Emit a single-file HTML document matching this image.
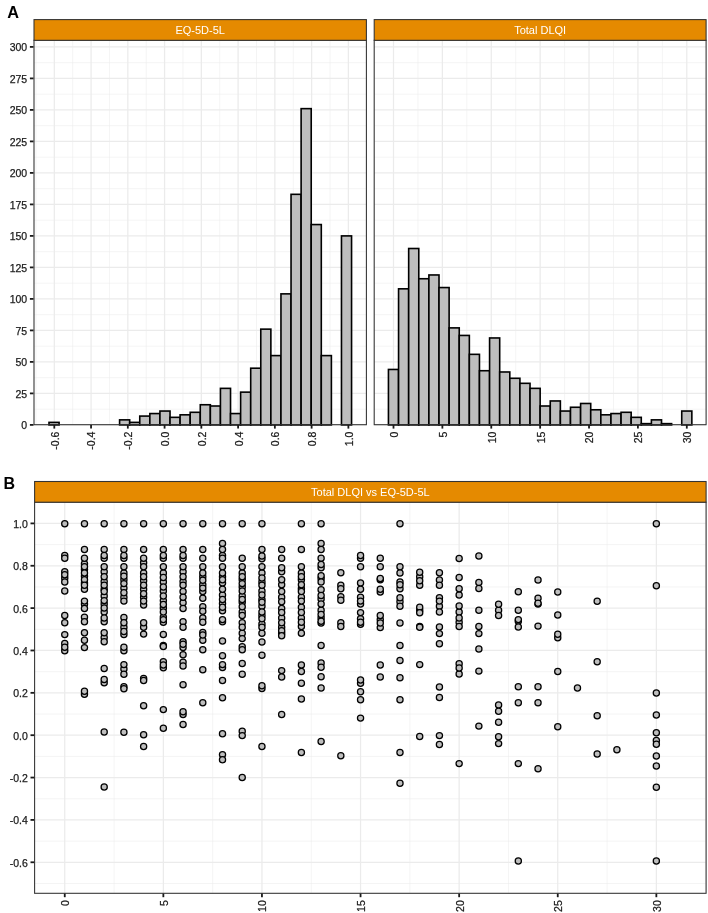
<!DOCTYPE html>
<html><head><meta charset="utf-8"><title>Figure</title>
<style>
html,body{margin:0;padding:0;background:#fff;}
svg{display:block;font-family:"Liberation Sans",sans-serif;}
</style></head><body>
<svg width="708" height="913" viewBox="0 0 708 913">
<rect width="708" height="913" fill="#ffffff"/>
<rect x="34.00" y="40.30" width="332.40" height="384.40" fill="#ffffff"/>
<line x1="35.92" y1="40.30" x2="35.92" y2="424.70" stroke="#ebebeb" stroke-width="0.55" />
<line x1="72.68" y1="40.30" x2="72.68" y2="424.70" stroke="#ebebeb" stroke-width="0.55" />
<line x1="109.44" y1="40.30" x2="109.44" y2="424.70" stroke="#ebebeb" stroke-width="0.55" />
<line x1="146.20" y1="40.30" x2="146.20" y2="424.70" stroke="#ebebeb" stroke-width="0.55" />
<line x1="182.96" y1="40.30" x2="182.96" y2="424.70" stroke="#ebebeb" stroke-width="0.55" />
<line x1="219.72" y1="40.30" x2="219.72" y2="424.70" stroke="#ebebeb" stroke-width="0.55" />
<line x1="256.48" y1="40.30" x2="256.48" y2="424.70" stroke="#ebebeb" stroke-width="0.55" />
<line x1="293.24" y1="40.30" x2="293.24" y2="424.70" stroke="#ebebeb" stroke-width="0.55" />
<line x1="330.00" y1="40.30" x2="330.00" y2="424.70" stroke="#ebebeb" stroke-width="0.55" />
<line x1="34.00" y1="409.15" x2="366.40" y2="409.15" stroke="#ebebeb" stroke-width="0.55" />
<line x1="34.00" y1="377.65" x2="366.40" y2="377.65" stroke="#ebebeb" stroke-width="0.55" />
<line x1="34.00" y1="346.15" x2="366.40" y2="346.15" stroke="#ebebeb" stroke-width="0.55" />
<line x1="34.00" y1="314.65" x2="366.40" y2="314.65" stroke="#ebebeb" stroke-width="0.55" />
<line x1="34.00" y1="283.15" x2="366.40" y2="283.15" stroke="#ebebeb" stroke-width="0.55" />
<line x1="34.00" y1="251.65" x2="366.40" y2="251.65" stroke="#ebebeb" stroke-width="0.55" />
<line x1="34.00" y1="220.15" x2="366.40" y2="220.15" stroke="#ebebeb" stroke-width="0.55" />
<line x1="34.00" y1="188.65" x2="366.40" y2="188.65" stroke="#ebebeb" stroke-width="0.55" />
<line x1="34.00" y1="157.15" x2="366.40" y2="157.15" stroke="#ebebeb" stroke-width="0.55" />
<line x1="34.00" y1="125.65" x2="366.40" y2="125.65" stroke="#ebebeb" stroke-width="0.55" />
<line x1="34.00" y1="94.15" x2="366.40" y2="94.15" stroke="#ebebeb" stroke-width="0.55" />
<line x1="34.00" y1="62.65" x2="366.40" y2="62.65" stroke="#ebebeb" stroke-width="0.55" />
<line x1="54.30" y1="40.30" x2="54.30" y2="424.70" stroke="#ebebeb" stroke-width="1.25" />
<line x1="91.06" y1="40.30" x2="91.06" y2="424.70" stroke="#ebebeb" stroke-width="1.25" />
<line x1="127.82" y1="40.30" x2="127.82" y2="424.70" stroke="#ebebeb" stroke-width="1.25" />
<line x1="164.58" y1="40.30" x2="164.58" y2="424.70" stroke="#ebebeb" stroke-width="1.25" />
<line x1="201.34" y1="40.30" x2="201.34" y2="424.70" stroke="#ebebeb" stroke-width="1.25" />
<line x1="238.10" y1="40.30" x2="238.10" y2="424.70" stroke="#ebebeb" stroke-width="1.25" />
<line x1="274.86" y1="40.30" x2="274.86" y2="424.70" stroke="#ebebeb" stroke-width="1.25" />
<line x1="311.62" y1="40.30" x2="311.62" y2="424.70" stroke="#ebebeb" stroke-width="1.25" />
<line x1="348.38" y1="40.30" x2="348.38" y2="424.70" stroke="#ebebeb" stroke-width="1.25" />
<line x1="34.00" y1="424.90" x2="366.40" y2="424.90" stroke="#ebebeb" stroke-width="1.25" />
<line x1="34.00" y1="393.40" x2="366.40" y2="393.40" stroke="#ebebeb" stroke-width="1.25" />
<line x1="34.00" y1="361.90" x2="366.40" y2="361.90" stroke="#ebebeb" stroke-width="1.25" />
<line x1="34.00" y1="330.40" x2="366.40" y2="330.40" stroke="#ebebeb" stroke-width="1.25" />
<line x1="34.00" y1="298.90" x2="366.40" y2="298.90" stroke="#ebebeb" stroke-width="1.25" />
<line x1="34.00" y1="267.40" x2="366.40" y2="267.40" stroke="#ebebeb" stroke-width="1.25" />
<line x1="34.00" y1="235.90" x2="366.40" y2="235.90" stroke="#ebebeb" stroke-width="1.25" />
<line x1="34.00" y1="204.40" x2="366.40" y2="204.40" stroke="#ebebeb" stroke-width="1.25" />
<line x1="34.00" y1="172.90" x2="366.40" y2="172.90" stroke="#ebebeb" stroke-width="1.25" />
<line x1="34.00" y1="141.40" x2="366.40" y2="141.40" stroke="#ebebeb" stroke-width="1.25" />
<line x1="34.00" y1="109.90" x2="366.40" y2="109.90" stroke="#ebebeb" stroke-width="1.25" />
<line x1="34.00" y1="78.40" x2="366.40" y2="78.40" stroke="#ebebeb" stroke-width="1.25" />
<line x1="34.00" y1="46.90" x2="366.40" y2="46.90" stroke="#ebebeb" stroke-width="1.25" />
<rect x="49.00" y="422.38" width="10.09" height="2.52" fill="#BEBEBE" stroke="#000" stroke-width="1.6"/>
<rect x="119.59" y="419.86" width="10.09" height="5.04" fill="#BEBEBE" stroke="#000" stroke-width="1.6"/>
<rect x="129.68" y="422.38" width="10.09" height="2.52" fill="#BEBEBE" stroke="#000" stroke-width="1.6"/>
<rect x="139.76" y="416.08" width="10.09" height="8.82" fill="#BEBEBE" stroke="#000" stroke-width="1.6"/>
<rect x="149.85" y="413.56" width="10.09" height="11.34" fill="#BEBEBE" stroke="#000" stroke-width="1.6"/>
<rect x="159.94" y="411.04" width="10.09" height="13.86" fill="#BEBEBE" stroke="#000" stroke-width="1.6"/>
<rect x="170.02" y="417.34" width="10.09" height="7.56" fill="#BEBEBE" stroke="#000" stroke-width="1.6"/>
<rect x="180.10" y="414.82" width="10.09" height="10.08" fill="#BEBEBE" stroke="#000" stroke-width="1.6"/>
<rect x="190.19" y="412.30" width="10.09" height="12.60" fill="#BEBEBE" stroke="#000" stroke-width="1.6"/>
<rect x="200.28" y="404.74" width="10.09" height="20.16" fill="#BEBEBE" stroke="#000" stroke-width="1.6"/>
<rect x="210.36" y="406.00" width="10.09" height="18.90" fill="#BEBEBE" stroke="#000" stroke-width="1.6"/>
<rect x="220.44" y="388.36" width="10.09" height="36.54" fill="#BEBEBE" stroke="#000" stroke-width="1.6"/>
<rect x="230.53" y="413.56" width="10.09" height="11.34" fill="#BEBEBE" stroke="#000" stroke-width="1.6"/>
<rect x="240.62" y="392.14" width="10.09" height="32.76" fill="#BEBEBE" stroke="#000" stroke-width="1.6"/>
<rect x="250.70" y="368.20" width="10.09" height="56.70" fill="#BEBEBE" stroke="#000" stroke-width="1.6"/>
<rect x="260.78" y="329.14" width="10.09" height="95.76" fill="#BEBEBE" stroke="#000" stroke-width="1.6"/>
<rect x="270.87" y="355.60" width="10.09" height="69.30" fill="#BEBEBE" stroke="#000" stroke-width="1.6"/>
<rect x="280.96" y="293.86" width="10.09" height="131.04" fill="#BEBEBE" stroke="#000" stroke-width="1.6"/>
<rect x="291.04" y="194.32" width="10.09" height="230.58" fill="#BEBEBE" stroke="#000" stroke-width="1.6"/>
<rect x="301.12" y="108.64" width="10.09" height="316.26" fill="#BEBEBE" stroke="#000" stroke-width="1.6"/>
<rect x="311.21" y="224.56" width="10.09" height="200.34" fill="#BEBEBE" stroke="#000" stroke-width="1.6"/>
<rect x="321.30" y="355.60" width="10.09" height="69.30" fill="#BEBEBE" stroke="#000" stroke-width="1.6"/>
<rect x="341.47" y="235.90" width="10.09" height="189.00" fill="#BEBEBE" stroke="#000" stroke-width="1.6"/>
<rect x="34.00" y="40.30" width="332.40" height="384.40" fill="none" stroke="#333333" stroke-width="1.07"/>
<rect x="374.20" y="40.30" width="331.90" height="384.40" fill="#ffffff"/>
<line x1="417.94" y1="40.30" x2="417.94" y2="424.70" stroke="#ebebeb" stroke-width="0.55" />
<line x1="466.82" y1="40.30" x2="466.82" y2="424.70" stroke="#ebebeb" stroke-width="0.55" />
<line x1="515.71" y1="40.30" x2="515.71" y2="424.70" stroke="#ebebeb" stroke-width="0.55" />
<line x1="564.59" y1="40.30" x2="564.59" y2="424.70" stroke="#ebebeb" stroke-width="0.55" />
<line x1="613.47" y1="40.30" x2="613.47" y2="424.70" stroke="#ebebeb" stroke-width="0.55" />
<line x1="662.36" y1="40.30" x2="662.36" y2="424.70" stroke="#ebebeb" stroke-width="0.55" />
<line x1="374.20" y1="409.15" x2="706.10" y2="409.15" stroke="#ebebeb" stroke-width="0.55" />
<line x1="374.20" y1="377.65" x2="706.10" y2="377.65" stroke="#ebebeb" stroke-width="0.55" />
<line x1="374.20" y1="346.15" x2="706.10" y2="346.15" stroke="#ebebeb" stroke-width="0.55" />
<line x1="374.20" y1="314.65" x2="706.10" y2="314.65" stroke="#ebebeb" stroke-width="0.55" />
<line x1="374.20" y1="283.15" x2="706.10" y2="283.15" stroke="#ebebeb" stroke-width="0.55" />
<line x1="374.20" y1="251.65" x2="706.10" y2="251.65" stroke="#ebebeb" stroke-width="0.55" />
<line x1="374.20" y1="220.15" x2="706.10" y2="220.15" stroke="#ebebeb" stroke-width="0.55" />
<line x1="374.20" y1="188.65" x2="706.10" y2="188.65" stroke="#ebebeb" stroke-width="0.55" />
<line x1="374.20" y1="157.15" x2="706.10" y2="157.15" stroke="#ebebeb" stroke-width="0.55" />
<line x1="374.20" y1="125.65" x2="706.10" y2="125.65" stroke="#ebebeb" stroke-width="0.55" />
<line x1="374.20" y1="94.15" x2="706.10" y2="94.15" stroke="#ebebeb" stroke-width="0.55" />
<line x1="374.20" y1="62.65" x2="706.10" y2="62.65" stroke="#ebebeb" stroke-width="0.55" />
<line x1="393.50" y1="40.30" x2="393.50" y2="424.70" stroke="#ebebeb" stroke-width="1.25" />
<line x1="442.38" y1="40.30" x2="442.38" y2="424.70" stroke="#ebebeb" stroke-width="1.25" />
<line x1="491.27" y1="40.30" x2="491.27" y2="424.70" stroke="#ebebeb" stroke-width="1.25" />
<line x1="540.15" y1="40.30" x2="540.15" y2="424.70" stroke="#ebebeb" stroke-width="1.25" />
<line x1="589.03" y1="40.30" x2="589.03" y2="424.70" stroke="#ebebeb" stroke-width="1.25" />
<line x1="637.92" y1="40.30" x2="637.92" y2="424.70" stroke="#ebebeb" stroke-width="1.25" />
<line x1="686.80" y1="40.30" x2="686.80" y2="424.70" stroke="#ebebeb" stroke-width="1.25" />
<line x1="374.20" y1="424.90" x2="706.10" y2="424.90" stroke="#ebebeb" stroke-width="1.25" />
<line x1="374.20" y1="393.40" x2="706.10" y2="393.40" stroke="#ebebeb" stroke-width="1.25" />
<line x1="374.20" y1="361.90" x2="706.10" y2="361.90" stroke="#ebebeb" stroke-width="1.25" />
<line x1="374.20" y1="330.40" x2="706.10" y2="330.40" stroke="#ebebeb" stroke-width="1.25" />
<line x1="374.20" y1="298.90" x2="706.10" y2="298.90" stroke="#ebebeb" stroke-width="1.25" />
<line x1="374.20" y1="267.40" x2="706.10" y2="267.40" stroke="#ebebeb" stroke-width="1.25" />
<line x1="374.20" y1="235.90" x2="706.10" y2="235.90" stroke="#ebebeb" stroke-width="1.25" />
<line x1="374.20" y1="204.40" x2="706.10" y2="204.40" stroke="#ebebeb" stroke-width="1.25" />
<line x1="374.20" y1="172.90" x2="706.10" y2="172.90" stroke="#ebebeb" stroke-width="1.25" />
<line x1="374.20" y1="141.40" x2="706.10" y2="141.40" stroke="#ebebeb" stroke-width="1.25" />
<line x1="374.20" y1="109.90" x2="706.10" y2="109.90" stroke="#ebebeb" stroke-width="1.25" />
<line x1="374.20" y1="78.40" x2="706.10" y2="78.40" stroke="#ebebeb" stroke-width="1.25" />
<line x1="374.20" y1="46.90" x2="706.10" y2="46.90" stroke="#ebebeb" stroke-width="1.25" />
<rect x="388.44" y="369.46" width="10.11" height="55.44" fill="#BEBEBE" stroke="#000" stroke-width="1.6"/>
<rect x="398.56" y="288.82" width="10.11" height="136.08" fill="#BEBEBE" stroke="#000" stroke-width="1.6"/>
<rect x="408.67" y="248.50" width="10.11" height="176.40" fill="#BEBEBE" stroke="#000" stroke-width="1.6"/>
<rect x="418.78" y="278.74" width="10.11" height="146.16" fill="#BEBEBE" stroke="#000" stroke-width="1.6"/>
<rect x="428.90" y="274.96" width="10.11" height="149.94" fill="#BEBEBE" stroke="#000" stroke-width="1.6"/>
<rect x="439.01" y="287.56" width="10.11" height="137.34" fill="#BEBEBE" stroke="#000" stroke-width="1.6"/>
<rect x="449.13" y="327.88" width="10.11" height="97.02" fill="#BEBEBE" stroke="#000" stroke-width="1.6"/>
<rect x="459.24" y="335.44" width="10.11" height="89.46" fill="#BEBEBE" stroke="#000" stroke-width="1.6"/>
<rect x="469.35" y="354.34" width="10.11" height="70.56" fill="#BEBEBE" stroke="#000" stroke-width="1.6"/>
<rect x="479.47" y="370.72" width="10.11" height="54.18" fill="#BEBEBE" stroke="#000" stroke-width="1.6"/>
<rect x="489.58" y="337.96" width="10.11" height="86.94" fill="#BEBEBE" stroke="#000" stroke-width="1.6"/>
<rect x="499.69" y="371.98" width="10.11" height="52.92" fill="#BEBEBE" stroke="#000" stroke-width="1.6"/>
<rect x="509.81" y="378.28" width="10.11" height="46.62" fill="#BEBEBE" stroke="#000" stroke-width="1.6"/>
<rect x="519.92" y="383.32" width="10.11" height="41.58" fill="#BEBEBE" stroke="#000" stroke-width="1.6"/>
<rect x="530.04" y="388.36" width="10.11" height="36.54" fill="#BEBEBE" stroke="#000" stroke-width="1.6"/>
<rect x="540.15" y="406.00" width="10.11" height="18.90" fill="#BEBEBE" stroke="#000" stroke-width="1.6"/>
<rect x="550.26" y="400.96" width="10.11" height="23.94" fill="#BEBEBE" stroke="#000" stroke-width="1.6"/>
<rect x="560.38" y="411.04" width="10.11" height="13.86" fill="#BEBEBE" stroke="#000" stroke-width="1.6"/>
<rect x="570.49" y="407.26" width="10.11" height="17.64" fill="#BEBEBE" stroke="#000" stroke-width="1.6"/>
<rect x="580.61" y="403.48" width="10.11" height="21.42" fill="#BEBEBE" stroke="#000" stroke-width="1.6"/>
<rect x="590.72" y="409.78" width="10.11" height="15.12" fill="#BEBEBE" stroke="#000" stroke-width="1.6"/>
<rect x="600.83" y="414.82" width="10.11" height="10.08" fill="#BEBEBE" stroke="#000" stroke-width="1.6"/>
<rect x="610.95" y="413.56" width="10.11" height="11.34" fill="#BEBEBE" stroke="#000" stroke-width="1.6"/>
<rect x="621.06" y="412.30" width="10.11" height="12.60" fill="#BEBEBE" stroke="#000" stroke-width="1.6"/>
<rect x="631.17" y="417.34" width="10.11" height="7.56" fill="#BEBEBE" stroke="#000" stroke-width="1.6"/>
<rect x="641.29" y="423.64" width="10.11" height="1.26" fill="#BEBEBE" stroke="#000" stroke-width="1.6"/>
<rect x="651.40" y="419.86" width="10.11" height="5.04" fill="#BEBEBE" stroke="#000" stroke-width="1.6"/>
<rect x="661.52" y="423.64" width="10.11" height="1.26" fill="#BEBEBE" stroke="#000" stroke-width="1.6"/>
<rect x="681.74" y="411.04" width="10.11" height="13.86" fill="#BEBEBE" stroke="#000" stroke-width="1.6"/>
<rect x="374.20" y="40.30" width="331.90" height="384.40" fill="none" stroke="#333333" stroke-width="1.07"/>
<rect x="34.00" y="19.60" width="332.40" height="20.70" fill="#E58A00" stroke="#333333" stroke-width="1.07"/>
<text x="200.20" y="33.70" text-anchor="middle" fill="#ffffff" font-size="11.0">EQ-5D-5L</text>
<rect x="374.20" y="19.60" width="331.90" height="20.70" fill="#E58A00" stroke="#333333" stroke-width="1.07"/>
<text x="540.15" y="33.70" text-anchor="middle" fill="#ffffff" font-size="11.0">Total DLQI</text>
<line x1="29.90" y1="424.90" x2="33.50" y2="424.90" stroke="#1a1a1a" stroke-width="1.8" />
<text x="27.20" y="429.40" text-anchor="end" fill="#1a1a1a" stroke="#1a1a1a" stroke-width="0.25" font-size="10.5">0</text>
<line x1="29.90" y1="393.40" x2="33.50" y2="393.40" stroke="#1a1a1a" stroke-width="1.8" />
<text x="27.20" y="397.90" text-anchor="end" fill="#1a1a1a" stroke="#1a1a1a" stroke-width="0.25" font-size="10.5">25</text>
<line x1="29.90" y1="361.90" x2="33.50" y2="361.90" stroke="#1a1a1a" stroke-width="1.8" />
<text x="27.20" y="366.40" text-anchor="end" fill="#1a1a1a" stroke="#1a1a1a" stroke-width="0.25" font-size="10.5">50</text>
<line x1="29.90" y1="330.40" x2="33.50" y2="330.40" stroke="#1a1a1a" stroke-width="1.8" />
<text x="27.20" y="334.90" text-anchor="end" fill="#1a1a1a" stroke="#1a1a1a" stroke-width="0.25" font-size="10.5">75</text>
<line x1="29.90" y1="298.90" x2="33.50" y2="298.90" stroke="#1a1a1a" stroke-width="1.8" />
<text x="27.20" y="303.40" text-anchor="end" fill="#1a1a1a" stroke="#1a1a1a" stroke-width="0.25" font-size="10.5">100</text>
<line x1="29.90" y1="267.40" x2="33.50" y2="267.40" stroke="#1a1a1a" stroke-width="1.8" />
<text x="27.20" y="271.90" text-anchor="end" fill="#1a1a1a" stroke="#1a1a1a" stroke-width="0.25" font-size="10.5">125</text>
<line x1="29.90" y1="235.90" x2="33.50" y2="235.90" stroke="#1a1a1a" stroke-width="1.8" />
<text x="27.20" y="240.40" text-anchor="end" fill="#1a1a1a" stroke="#1a1a1a" stroke-width="0.25" font-size="10.5">150</text>
<line x1="29.90" y1="204.40" x2="33.50" y2="204.40" stroke="#1a1a1a" stroke-width="1.8" />
<text x="27.20" y="208.90" text-anchor="end" fill="#1a1a1a" stroke="#1a1a1a" stroke-width="0.25" font-size="10.5">175</text>
<line x1="29.90" y1="172.90" x2="33.50" y2="172.90" stroke="#1a1a1a" stroke-width="1.8" />
<text x="27.20" y="177.40" text-anchor="end" fill="#1a1a1a" stroke="#1a1a1a" stroke-width="0.25" font-size="10.5">200</text>
<line x1="29.90" y1="141.40" x2="33.50" y2="141.40" stroke="#1a1a1a" stroke-width="1.8" />
<text x="27.20" y="145.90" text-anchor="end" fill="#1a1a1a" stroke="#1a1a1a" stroke-width="0.25" font-size="10.5">225</text>
<line x1="29.90" y1="109.90" x2="33.50" y2="109.90" stroke="#1a1a1a" stroke-width="1.8" />
<text x="27.20" y="114.40" text-anchor="end" fill="#1a1a1a" stroke="#1a1a1a" stroke-width="0.25" font-size="10.5">250</text>
<line x1="29.90" y1="78.40" x2="33.50" y2="78.40" stroke="#1a1a1a" stroke-width="1.8" />
<text x="27.20" y="82.90" text-anchor="end" fill="#1a1a1a" stroke="#1a1a1a" stroke-width="0.25" font-size="10.5">275</text>
<line x1="29.90" y1="46.90" x2="33.50" y2="46.90" stroke="#1a1a1a" stroke-width="1.8" />
<text x="27.20" y="51.40" text-anchor="end" fill="#1a1a1a" stroke="#1a1a1a" stroke-width="0.25" font-size="10.5">300</text>
<line x1="54.30" y1="425.00" x2="54.30" y2="428.60" stroke="#1a1a1a" stroke-width="1.8" />
<text transform="translate(58.70,431.60) rotate(-90)" text-anchor="end" fill="#1a1a1a" stroke="#1a1a1a" stroke-width="0.25" font-size="10.5">-0.6</text>
<line x1="91.06" y1="425.00" x2="91.06" y2="428.60" stroke="#1a1a1a" stroke-width="1.8" />
<text transform="translate(95.46,431.60) rotate(-90)" text-anchor="end" fill="#1a1a1a" stroke="#1a1a1a" stroke-width="0.25" font-size="10.5">-0.4</text>
<line x1="127.82" y1="425.00" x2="127.82" y2="428.60" stroke="#1a1a1a" stroke-width="1.8" />
<text transform="translate(132.22,431.60) rotate(-90)" text-anchor="end" fill="#1a1a1a" stroke="#1a1a1a" stroke-width="0.25" font-size="10.5">-0.2</text>
<line x1="164.58" y1="425.00" x2="164.58" y2="428.60" stroke="#1a1a1a" stroke-width="1.8" />
<text transform="translate(168.98,431.60) rotate(-90)" text-anchor="end" fill="#1a1a1a" stroke="#1a1a1a" stroke-width="0.25" font-size="10.5">0.0</text>
<line x1="201.34" y1="425.00" x2="201.34" y2="428.60" stroke="#1a1a1a" stroke-width="1.8" />
<text transform="translate(205.74,431.60) rotate(-90)" text-anchor="end" fill="#1a1a1a" stroke="#1a1a1a" stroke-width="0.25" font-size="10.5">0.2</text>
<line x1="238.10" y1="425.00" x2="238.10" y2="428.60" stroke="#1a1a1a" stroke-width="1.8" />
<text transform="translate(242.50,431.60) rotate(-90)" text-anchor="end" fill="#1a1a1a" stroke="#1a1a1a" stroke-width="0.25" font-size="10.5">0.4</text>
<line x1="274.86" y1="425.00" x2="274.86" y2="428.60" stroke="#1a1a1a" stroke-width="1.8" />
<text transform="translate(279.26,431.60) rotate(-90)" text-anchor="end" fill="#1a1a1a" stroke="#1a1a1a" stroke-width="0.25" font-size="10.5">0.6</text>
<line x1="311.62" y1="425.00" x2="311.62" y2="428.60" stroke="#1a1a1a" stroke-width="1.8" />
<text transform="translate(316.02,431.60) rotate(-90)" text-anchor="end" fill="#1a1a1a" stroke="#1a1a1a" stroke-width="0.25" font-size="10.5">0.8</text>
<line x1="348.38" y1="425.00" x2="348.38" y2="428.60" stroke="#1a1a1a" stroke-width="1.8" />
<text transform="translate(352.78,431.60) rotate(-90)" text-anchor="end" fill="#1a1a1a" stroke="#1a1a1a" stroke-width="0.25" font-size="10.5">1.0</text>
<line x1="393.50" y1="425.00" x2="393.50" y2="428.60" stroke="#1a1a1a" stroke-width="1.8" />
<text transform="translate(397.90,431.60) rotate(-90)" text-anchor="end" fill="#1a1a1a" stroke="#1a1a1a" stroke-width="0.25" font-size="10.5">0</text>
<line x1="442.38" y1="425.00" x2="442.38" y2="428.60" stroke="#1a1a1a" stroke-width="1.8" />
<text transform="translate(446.78,431.60) rotate(-90)" text-anchor="end" fill="#1a1a1a" stroke="#1a1a1a" stroke-width="0.25" font-size="10.5">5</text>
<line x1="491.27" y1="425.00" x2="491.27" y2="428.60" stroke="#1a1a1a" stroke-width="1.8" />
<text transform="translate(495.67,431.60) rotate(-90)" text-anchor="end" fill="#1a1a1a" stroke="#1a1a1a" stroke-width="0.25" font-size="10.5">10</text>
<line x1="540.15" y1="425.00" x2="540.15" y2="428.60" stroke="#1a1a1a" stroke-width="1.8" />
<text transform="translate(544.55,431.60) rotate(-90)" text-anchor="end" fill="#1a1a1a" stroke="#1a1a1a" stroke-width="0.25" font-size="10.5">15</text>
<line x1="589.03" y1="425.00" x2="589.03" y2="428.60" stroke="#1a1a1a" stroke-width="1.8" />
<text transform="translate(593.43,431.60) rotate(-90)" text-anchor="end" fill="#1a1a1a" stroke="#1a1a1a" stroke-width="0.25" font-size="10.5">20</text>
<line x1="637.92" y1="425.00" x2="637.92" y2="428.60" stroke="#1a1a1a" stroke-width="1.8" />
<text transform="translate(642.32,431.60) rotate(-90)" text-anchor="end" fill="#1a1a1a" stroke="#1a1a1a" stroke-width="0.25" font-size="10.5">25</text>
<line x1="686.80" y1="425.00" x2="686.80" y2="428.60" stroke="#1a1a1a" stroke-width="1.8" />
<text transform="translate(691.20,431.60) rotate(-90)" text-anchor="end" fill="#1a1a1a" stroke="#1a1a1a" stroke-width="0.25" font-size="10.5">30</text>
<rect x="34.60" y="502.20" width="671.50" height="391.10" fill="#ffffff"/>
<line x1="114.05" y1="502.20" x2="114.05" y2="893.30" stroke="#ebebeb" stroke-width="0.55" />
<line x1="212.65" y1="502.20" x2="212.65" y2="893.30" stroke="#ebebeb" stroke-width="0.55" />
<line x1="311.25" y1="502.20" x2="311.25" y2="893.30" stroke="#ebebeb" stroke-width="0.55" />
<line x1="409.85" y1="502.20" x2="409.85" y2="893.30" stroke="#ebebeb" stroke-width="0.55" />
<line x1="508.45" y1="502.20" x2="508.45" y2="893.30" stroke="#ebebeb" stroke-width="0.55" />
<line x1="607.05" y1="502.20" x2="607.05" y2="893.30" stroke="#ebebeb" stroke-width="0.55" />
<line x1="705.65" y1="502.20" x2="705.65" y2="893.30" stroke="#ebebeb" stroke-width="0.55" />
<line x1="34.60" y1="883.46" x2="706.10" y2="883.46" stroke="#ebebeb" stroke-width="0.55" />
<line x1="34.60" y1="841.10" x2="706.10" y2="841.10" stroke="#ebebeb" stroke-width="0.55" />
<line x1="34.60" y1="798.74" x2="706.10" y2="798.74" stroke="#ebebeb" stroke-width="0.55" />
<line x1="34.60" y1="756.38" x2="706.10" y2="756.38" stroke="#ebebeb" stroke-width="0.55" />
<line x1="34.60" y1="714.02" x2="706.10" y2="714.02" stroke="#ebebeb" stroke-width="0.55" />
<line x1="34.60" y1="671.66" x2="706.10" y2="671.66" stroke="#ebebeb" stroke-width="0.55" />
<line x1="34.60" y1="629.30" x2="706.10" y2="629.30" stroke="#ebebeb" stroke-width="0.55" />
<line x1="34.60" y1="586.94" x2="706.10" y2="586.94" stroke="#ebebeb" stroke-width="0.55" />
<line x1="34.60" y1="544.58" x2="706.10" y2="544.58" stroke="#ebebeb" stroke-width="0.55" />
<line x1="64.75" y1="502.20" x2="64.75" y2="893.30" stroke="#ebebeb" stroke-width="1.25" />
<line x1="163.35" y1="502.20" x2="163.35" y2="893.30" stroke="#ebebeb" stroke-width="1.25" />
<line x1="261.95" y1="502.20" x2="261.95" y2="893.30" stroke="#ebebeb" stroke-width="1.25" />
<line x1="360.55" y1="502.20" x2="360.55" y2="893.30" stroke="#ebebeb" stroke-width="1.25" />
<line x1="459.15" y1="502.20" x2="459.15" y2="893.30" stroke="#ebebeb" stroke-width="1.25" />
<line x1="557.75" y1="502.20" x2="557.75" y2="893.30" stroke="#ebebeb" stroke-width="1.25" />
<line x1="656.35" y1="502.20" x2="656.35" y2="893.30" stroke="#ebebeb" stroke-width="1.25" />
<line x1="34.60" y1="862.28" x2="706.10" y2="862.28" stroke="#ebebeb" stroke-width="1.25" />
<line x1="34.60" y1="819.92" x2="706.10" y2="819.92" stroke="#ebebeb" stroke-width="1.25" />
<line x1="34.60" y1="777.56" x2="706.10" y2="777.56" stroke="#ebebeb" stroke-width="1.25" />
<line x1="34.60" y1="735.20" x2="706.10" y2="735.20" stroke="#ebebeb" stroke-width="1.25" />
<line x1="34.60" y1="692.84" x2="706.10" y2="692.84" stroke="#ebebeb" stroke-width="1.25" />
<line x1="34.60" y1="650.48" x2="706.10" y2="650.48" stroke="#ebebeb" stroke-width="1.25" />
<line x1="34.60" y1="608.12" x2="706.10" y2="608.12" stroke="#ebebeb" stroke-width="1.25" />
<line x1="34.60" y1="565.76" x2="706.10" y2="565.76" stroke="#ebebeb" stroke-width="1.25" />
<line x1="34.60" y1="523.40" x2="706.10" y2="523.40" stroke="#ebebeb" stroke-width="1.25" />
<g fill="#BEBEBE" stroke="#000" stroke-width="1.25">
<circle cx="64.75" cy="555.40" r="3.1"/>
<circle cx="64.75" cy="571.80" r="3.1"/>
<circle cx="64.75" cy="578.00" r="3.1"/>
<circle cx="64.75" cy="591.00" r="3.1"/>
<circle cx="64.75" cy="622.70" r="3.1"/>
<circle cx="64.75" cy="643.40" r="3.1"/>
<circle cx="64.75" cy="650.70" r="3.1"/>
<circle cx="64.75" cy="523.80" r="3.1"/>
<circle cx="64.75" cy="558.20" r="3.1"/>
<circle cx="64.75" cy="574.80" r="3.1"/>
<circle cx="64.75" cy="581.90" r="3.1"/>
<circle cx="64.75" cy="615.40" r="3.1"/>
<circle cx="64.75" cy="634.60" r="3.1"/>
<circle cx="64.75" cy="647.30" r="3.1"/>
<circle cx="84.47" cy="549.40" r="3.1"/>
<circle cx="84.47" cy="563.80" r="3.1"/>
<circle cx="84.47" cy="569.50" r="3.1"/>
<circle cx="84.47" cy="576.30" r="3.1"/>
<circle cx="84.47" cy="583.00" r="3.1"/>
<circle cx="84.47" cy="589.30" r="3.1"/>
<circle cx="84.47" cy="603.90" r="3.1"/>
<circle cx="84.47" cy="617.10" r="3.1"/>
<circle cx="84.47" cy="632.70" r="3.1"/>
<circle cx="84.47" cy="647.60" r="3.1"/>
<circle cx="84.47" cy="694.30" r="3.1"/>
<circle cx="84.47" cy="523.80" r="3.1"/>
<circle cx="84.47" cy="558.20" r="3.1"/>
<circle cx="84.47" cy="566.70" r="3.1"/>
<circle cx="84.47" cy="572.90" r="3.1"/>
<circle cx="84.47" cy="579.70" r="3.1"/>
<circle cx="84.47" cy="585.30" r="3.1"/>
<circle cx="84.47" cy="601.10" r="3.1"/>
<circle cx="84.47" cy="608.50" r="3.1"/>
<circle cx="84.47" cy="621.70" r="3.1"/>
<circle cx="84.47" cy="640.30" r="3.1"/>
<circle cx="84.47" cy="691.30" r="3.1"/>
<circle cx="104.19" cy="549.40" r="3.1"/>
<circle cx="104.19" cy="558.20" r="3.1"/>
<circle cx="104.19" cy="571.80" r="3.1"/>
<circle cx="104.19" cy="581.40" r="3.1"/>
<circle cx="104.19" cy="589.30" r="3.1"/>
<circle cx="104.19" cy="596.00" r="3.1"/>
<circle cx="104.19" cy="603.90" r="3.1"/>
<circle cx="104.19" cy="611.90" r="3.1"/>
<circle cx="104.19" cy="621.70" r="3.1"/>
<circle cx="104.19" cy="637.50" r="3.1"/>
<circle cx="104.19" cy="668.50" r="3.1"/>
<circle cx="104.19" cy="682.80" r="3.1"/>
<circle cx="104.19" cy="787.00" r="3.1"/>
<circle cx="104.19" cy="523.80" r="3.1"/>
<circle cx="104.19" cy="555.40" r="3.1"/>
<circle cx="104.19" cy="566.70" r="3.1"/>
<circle cx="104.19" cy="576.80" r="3.1"/>
<circle cx="104.19" cy="585.30" r="3.1"/>
<circle cx="104.19" cy="591.50" r="3.1"/>
<circle cx="104.19" cy="600.60" r="3.1"/>
<circle cx="104.19" cy="607.90" r="3.1"/>
<circle cx="104.19" cy="617.90" r="3.1"/>
<circle cx="104.19" cy="632.70" r="3.1"/>
<circle cx="104.19" cy="641.70" r="3.1"/>
<circle cx="104.19" cy="679.40" r="3.1"/>
<circle cx="104.19" cy="732.00" r="3.1"/>
<circle cx="123.91" cy="549.40" r="3.1"/>
<circle cx="123.91" cy="558.20" r="3.1"/>
<circle cx="123.91" cy="572.90" r="3.1"/>
<circle cx="123.91" cy="579.70" r="3.1"/>
<circle cx="123.91" cy="588.10" r="3.1"/>
<circle cx="123.91" cy="597.20" r="3.1"/>
<circle cx="123.91" cy="617.40" r="3.1"/>
<circle cx="123.91" cy="627.30" r="3.1"/>
<circle cx="123.91" cy="634.60" r="3.1"/>
<circle cx="123.91" cy="650.70" r="3.1"/>
<circle cx="123.91" cy="668.90" r="3.1"/>
<circle cx="123.91" cy="686.70" r="3.1"/>
<circle cx="123.91" cy="732.20" r="3.1"/>
<circle cx="123.91" cy="523.80" r="3.1"/>
<circle cx="123.91" cy="555.40" r="3.1"/>
<circle cx="123.91" cy="566.70" r="3.1"/>
<circle cx="123.91" cy="576.30" r="3.1"/>
<circle cx="123.91" cy="583.60" r="3.1"/>
<circle cx="123.91" cy="592.70" r="3.1"/>
<circle cx="123.91" cy="601.10" r="3.1"/>
<circle cx="123.91" cy="622.70" r="3.1"/>
<circle cx="123.91" cy="631.50" r="3.1"/>
<circle cx="123.91" cy="647.30" r="3.1"/>
<circle cx="123.91" cy="664.60" r="3.1"/>
<circle cx="123.91" cy="674.30" r="3.1"/>
<circle cx="123.91" cy="688.70" r="3.1"/>
<circle cx="143.63" cy="549.40" r="3.1"/>
<circle cx="143.63" cy="562.70" r="3.1"/>
<circle cx="143.63" cy="572.90" r="3.1"/>
<circle cx="143.63" cy="580.80" r="3.1"/>
<circle cx="143.63" cy="589.30" r="3.1"/>
<circle cx="143.63" cy="597.20" r="3.1"/>
<circle cx="143.63" cy="605.10" r="3.1"/>
<circle cx="143.63" cy="627.30" r="3.1"/>
<circle cx="143.63" cy="678.50" r="3.1"/>
<circle cx="143.63" cy="705.70" r="3.1"/>
<circle cx="143.63" cy="746.50" r="3.1"/>
<circle cx="143.63" cy="523.80" r="3.1"/>
<circle cx="143.63" cy="558.20" r="3.1"/>
<circle cx="143.63" cy="566.70" r="3.1"/>
<circle cx="143.63" cy="576.80" r="3.1"/>
<circle cx="143.63" cy="585.30" r="3.1"/>
<circle cx="143.63" cy="593.80" r="3.1"/>
<circle cx="143.63" cy="601.10" r="3.1"/>
<circle cx="143.63" cy="622.70" r="3.1"/>
<circle cx="143.63" cy="634.10" r="3.1"/>
<circle cx="143.63" cy="680.40" r="3.1"/>
<circle cx="143.63" cy="734.70" r="3.1"/>
<circle cx="163.35" cy="549.40" r="3.1"/>
<circle cx="163.35" cy="558.20" r="3.1"/>
<circle cx="163.35" cy="572.90" r="3.1"/>
<circle cx="163.35" cy="581.90" r="3.1"/>
<circle cx="163.35" cy="591.00" r="3.1"/>
<circle cx="163.35" cy="600.60" r="3.1"/>
<circle cx="163.35" cy="607.90" r="3.1"/>
<circle cx="163.35" cy="617.10" r="3.1"/>
<circle cx="163.35" cy="622.20" r="3.1"/>
<circle cx="163.35" cy="645.40" r="3.1"/>
<circle cx="163.35" cy="661.60" r="3.1"/>
<circle cx="163.35" cy="667.70" r="3.1"/>
<circle cx="163.35" cy="728.30" r="3.1"/>
<circle cx="163.35" cy="523.80" r="3.1"/>
<circle cx="163.35" cy="555.40" r="3.1"/>
<circle cx="163.35" cy="566.70" r="3.1"/>
<circle cx="163.35" cy="577.40" r="3.1"/>
<circle cx="163.35" cy="587.00" r="3.1"/>
<circle cx="163.35" cy="596.00" r="3.1"/>
<circle cx="163.35" cy="604.50" r="3.1"/>
<circle cx="163.35" cy="611.90" r="3.1"/>
<circle cx="163.35" cy="619.60" r="3.1"/>
<circle cx="163.35" cy="634.40" r="3.1"/>
<circle cx="163.35" cy="646.50" r="3.1"/>
<circle cx="163.35" cy="665.00" r="3.1"/>
<circle cx="163.35" cy="709.60" r="3.1"/>
<circle cx="183.07" cy="549.40" r="3.1"/>
<circle cx="183.07" cy="558.20" r="3.1"/>
<circle cx="183.07" cy="571.80" r="3.1"/>
<circle cx="183.07" cy="581.40" r="3.1"/>
<circle cx="183.07" cy="591.50" r="3.1"/>
<circle cx="183.07" cy="602.80" r="3.1"/>
<circle cx="183.07" cy="621.70" r="3.1"/>
<circle cx="183.07" cy="641.70" r="3.1"/>
<circle cx="183.07" cy="647.60" r="3.1"/>
<circle cx="183.07" cy="662.10" r="3.1"/>
<circle cx="183.07" cy="684.70" r="3.1"/>
<circle cx="183.07" cy="714.40" r="3.1"/>
<circle cx="183.07" cy="523.80" r="3.1"/>
<circle cx="183.07" cy="555.40" r="3.1"/>
<circle cx="183.07" cy="566.70" r="3.1"/>
<circle cx="183.07" cy="576.80" r="3.1"/>
<circle cx="183.07" cy="585.30" r="3.1"/>
<circle cx="183.07" cy="597.20" r="3.1"/>
<circle cx="183.07" cy="608.50" r="3.1"/>
<circle cx="183.07" cy="627.30" r="3.1"/>
<circle cx="183.07" cy="644.20" r="3.1"/>
<circle cx="183.07" cy="654.80" r="3.1"/>
<circle cx="183.07" cy="666.00" r="3.1"/>
<circle cx="183.07" cy="711.70" r="3.1"/>
<circle cx="183.07" cy="724.40" r="3.1"/>
<circle cx="202.79" cy="549.40" r="3.1"/>
<circle cx="202.79" cy="566.70" r="3.1"/>
<circle cx="202.79" cy="576.80" r="3.1"/>
<circle cx="202.79" cy="584.70" r="3.1"/>
<circle cx="202.79" cy="591.50" r="3.1"/>
<circle cx="202.79" cy="606.80" r="3.1"/>
<circle cx="202.79" cy="617.90" r="3.1"/>
<circle cx="202.79" cy="632.40" r="3.1"/>
<circle cx="202.79" cy="640.30" r="3.1"/>
<circle cx="202.79" cy="669.70" r="3.1"/>
<circle cx="202.79" cy="523.80" r="3.1"/>
<circle cx="202.79" cy="558.20" r="3.1"/>
<circle cx="202.79" cy="572.90" r="3.1"/>
<circle cx="202.79" cy="580.20" r="3.1"/>
<circle cx="202.79" cy="588.10" r="3.1"/>
<circle cx="202.79" cy="598.30" r="3.1"/>
<circle cx="202.79" cy="611.30" r="3.1"/>
<circle cx="202.79" cy="622.20" r="3.1"/>
<circle cx="202.79" cy="634.90" r="3.1"/>
<circle cx="202.79" cy="649.70" r="3.1"/>
<circle cx="202.79" cy="702.80" r="3.1"/>
<circle cx="222.51" cy="543.50" r="3.1"/>
<circle cx="222.51" cy="555.40" r="3.1"/>
<circle cx="222.51" cy="566.70" r="3.1"/>
<circle cx="222.51" cy="576.80" r="3.1"/>
<circle cx="222.51" cy="583.00" r="3.1"/>
<circle cx="222.51" cy="594.90" r="3.1"/>
<circle cx="222.51" cy="603.40" r="3.1"/>
<circle cx="222.51" cy="610.70" r="3.1"/>
<circle cx="222.51" cy="621.70" r="3.1"/>
<circle cx="222.51" cy="655.80" r="3.1"/>
<circle cx="222.51" cy="667.50" r="3.1"/>
<circle cx="222.51" cy="697.70" r="3.1"/>
<circle cx="222.51" cy="754.60" r="3.1"/>
<circle cx="222.51" cy="523.80" r="3.1"/>
<circle cx="222.51" cy="549.40" r="3.1"/>
<circle cx="222.51" cy="558.20" r="3.1"/>
<circle cx="222.51" cy="572.90" r="3.1"/>
<circle cx="222.51" cy="579.70" r="3.1"/>
<circle cx="222.51" cy="589.30" r="3.1"/>
<circle cx="222.51" cy="599.40" r="3.1"/>
<circle cx="222.51" cy="607.30" r="3.1"/>
<circle cx="222.51" cy="619.60" r="3.1"/>
<circle cx="222.51" cy="640.90" r="3.1"/>
<circle cx="222.51" cy="664.60" r="3.1"/>
<circle cx="222.51" cy="680.40" r="3.1"/>
<circle cx="222.51" cy="733.70" r="3.1"/>
<circle cx="222.51" cy="759.70" r="3.1"/>
<circle cx="242.23" cy="558.20" r="3.1"/>
<circle cx="242.23" cy="572.90" r="3.1"/>
<circle cx="242.23" cy="579.70" r="3.1"/>
<circle cx="242.23" cy="587.00" r="3.1"/>
<circle cx="242.23" cy="596.00" r="3.1"/>
<circle cx="242.23" cy="602.20" r="3.1"/>
<circle cx="242.23" cy="611.90" r="3.1"/>
<circle cx="242.23" cy="622.70" r="3.1"/>
<circle cx="242.23" cy="633.20" r="3.1"/>
<circle cx="242.23" cy="646.80" r="3.1"/>
<circle cx="242.23" cy="663.40" r="3.1"/>
<circle cx="242.23" cy="731.30" r="3.1"/>
<circle cx="242.23" cy="777.50" r="3.1"/>
<circle cx="242.23" cy="523.80" r="3.1"/>
<circle cx="242.23" cy="566.70" r="3.1"/>
<circle cx="242.23" cy="576.80" r="3.1"/>
<circle cx="242.23" cy="583.60" r="3.1"/>
<circle cx="242.23" cy="591.00" r="3.1"/>
<circle cx="242.23" cy="599.40" r="3.1"/>
<circle cx="242.23" cy="606.80" r="3.1"/>
<circle cx="242.23" cy="615.40" r="3.1"/>
<circle cx="242.23" cy="627.30" r="3.1"/>
<circle cx="242.23" cy="638.60" r="3.1"/>
<circle cx="242.23" cy="649.70" r="3.1"/>
<circle cx="242.23" cy="674.30" r="3.1"/>
<circle cx="242.23" cy="735.60" r="3.1"/>
<circle cx="261.95" cy="549.40" r="3.1"/>
<circle cx="261.95" cy="558.80" r="3.1"/>
<circle cx="261.95" cy="572.90" r="3.1"/>
<circle cx="261.95" cy="581.90" r="3.1"/>
<circle cx="261.95" cy="591.00" r="3.1"/>
<circle cx="261.95" cy="599.40" r="3.1"/>
<circle cx="261.95" cy="606.20" r="3.1"/>
<circle cx="261.95" cy="615.40" r="3.1"/>
<circle cx="261.95" cy="623.90" r="3.1"/>
<circle cx="261.95" cy="633.20" r="3.1"/>
<circle cx="261.95" cy="655.30" r="3.1"/>
<circle cx="261.95" cy="688.40" r="3.1"/>
<circle cx="261.95" cy="523.80" r="3.1"/>
<circle cx="261.95" cy="555.90" r="3.1"/>
<circle cx="261.95" cy="566.70" r="3.1"/>
<circle cx="261.95" cy="578.00" r="3.1"/>
<circle cx="261.95" cy="585.30" r="3.1"/>
<circle cx="261.95" cy="594.90" r="3.1"/>
<circle cx="261.95" cy="602.20" r="3.1"/>
<circle cx="261.95" cy="611.90" r="3.1"/>
<circle cx="261.95" cy="618.80" r="3.1"/>
<circle cx="261.95" cy="627.30" r="3.1"/>
<circle cx="261.95" cy="642.00" r="3.1"/>
<circle cx="261.95" cy="685.80" r="3.1"/>
<circle cx="261.95" cy="746.50" r="3.1"/>
<circle cx="281.67" cy="558.20" r="3.1"/>
<circle cx="281.67" cy="571.80" r="3.1"/>
<circle cx="281.67" cy="584.70" r="3.1"/>
<circle cx="281.67" cy="597.20" r="3.1"/>
<circle cx="281.67" cy="608.50" r="3.1"/>
<circle cx="281.67" cy="617.90" r="3.1"/>
<circle cx="281.67" cy="627.30" r="3.1"/>
<circle cx="281.67" cy="633.20" r="3.1"/>
<circle cx="281.67" cy="670.60" r="3.1"/>
<circle cx="281.67" cy="714.40" r="3.1"/>
<circle cx="281.67" cy="549.40" r="3.1"/>
<circle cx="281.67" cy="567.80" r="3.1"/>
<circle cx="281.67" cy="579.70" r="3.1"/>
<circle cx="281.67" cy="591.50" r="3.1"/>
<circle cx="281.67" cy="601.70" r="3.1"/>
<circle cx="281.67" cy="612.40" r="3.1"/>
<circle cx="281.67" cy="622.70" r="3.1"/>
<circle cx="281.67" cy="630.70" r="3.1"/>
<circle cx="281.67" cy="635.80" r="3.1"/>
<circle cx="281.67" cy="677.00" r="3.1"/>
<circle cx="301.39" cy="549.40" r="3.1"/>
<circle cx="301.39" cy="572.90" r="3.1"/>
<circle cx="301.39" cy="579.70" r="3.1"/>
<circle cx="301.39" cy="588.70" r="3.1"/>
<circle cx="301.39" cy="597.20" r="3.1"/>
<circle cx="301.39" cy="607.30" r="3.1"/>
<circle cx="301.39" cy="617.90" r="3.1"/>
<circle cx="301.39" cy="626.40" r="3.1"/>
<circle cx="301.39" cy="665.00" r="3.1"/>
<circle cx="301.39" cy="683.30" r="3.1"/>
<circle cx="301.39" cy="752.40" r="3.1"/>
<circle cx="301.39" cy="523.80" r="3.1"/>
<circle cx="301.39" cy="566.70" r="3.1"/>
<circle cx="301.39" cy="576.80" r="3.1"/>
<circle cx="301.39" cy="584.70" r="3.1"/>
<circle cx="301.39" cy="591.50" r="3.1"/>
<circle cx="301.39" cy="601.10" r="3.1"/>
<circle cx="301.39" cy="612.40" r="3.1"/>
<circle cx="301.39" cy="622.20" r="3.1"/>
<circle cx="301.39" cy="633.20" r="3.1"/>
<circle cx="301.39" cy="671.40" r="3.1"/>
<circle cx="301.39" cy="698.90" r="3.1"/>
<circle cx="321.11" cy="543.50" r="3.1"/>
<circle cx="321.11" cy="558.20" r="3.1"/>
<circle cx="321.11" cy="567.80" r="3.1"/>
<circle cx="321.11" cy="578.50" r="3.1"/>
<circle cx="321.11" cy="589.80" r="3.1"/>
<circle cx="321.11" cy="598.90" r="3.1"/>
<circle cx="321.11" cy="610.20" r="3.1"/>
<circle cx="321.11" cy="617.90" r="3.1"/>
<circle cx="321.11" cy="623.00" r="3.1"/>
<circle cx="321.11" cy="662.90" r="3.1"/>
<circle cx="321.11" cy="676.80" r="3.1"/>
<circle cx="321.11" cy="741.50" r="3.1"/>
<circle cx="321.11" cy="523.80" r="3.1"/>
<circle cx="321.11" cy="549.40" r="3.1"/>
<circle cx="321.11" cy="564.40" r="3.1"/>
<circle cx="321.11" cy="575.70" r="3.1"/>
<circle cx="321.11" cy="581.90" r="3.1"/>
<circle cx="321.11" cy="595.50" r="3.1"/>
<circle cx="321.11" cy="603.90" r="3.1"/>
<circle cx="321.11" cy="614.50" r="3.1"/>
<circle cx="321.11" cy="621.30" r="3.1"/>
<circle cx="321.11" cy="645.40" r="3.1"/>
<circle cx="321.11" cy="667.20" r="3.1"/>
<circle cx="321.11" cy="687.90" r="3.1"/>
<circle cx="340.83" cy="585.30" r="3.1"/>
<circle cx="340.83" cy="596.60" r="3.1"/>
<circle cx="340.83" cy="622.70" r="3.1"/>
<circle cx="340.83" cy="755.80" r="3.1"/>
<circle cx="340.83" cy="572.70" r="3.1"/>
<circle cx="340.83" cy="588.70" r="3.1"/>
<circle cx="340.83" cy="600.20" r="3.1"/>
<circle cx="340.83" cy="626.40" r="3.1"/>
<circle cx="360.55" cy="558.20" r="3.1"/>
<circle cx="360.55" cy="583.00" r="3.1"/>
<circle cx="360.55" cy="597.20" r="3.1"/>
<circle cx="360.55" cy="603.90" r="3.1"/>
<circle cx="360.55" cy="618.80" r="3.1"/>
<circle cx="360.55" cy="624.20" r="3.1"/>
<circle cx="360.55" cy="683.30" r="3.1"/>
<circle cx="360.55" cy="699.80" r="3.1"/>
<circle cx="360.55" cy="555.40" r="3.1"/>
<circle cx="360.55" cy="566.70" r="3.1"/>
<circle cx="360.55" cy="589.30" r="3.1"/>
<circle cx="360.55" cy="601.10" r="3.1"/>
<circle cx="360.55" cy="612.60" r="3.1"/>
<circle cx="360.55" cy="622.20" r="3.1"/>
<circle cx="360.55" cy="679.90" r="3.1"/>
<circle cx="360.55" cy="691.80" r="3.1"/>
<circle cx="360.55" cy="718.10" r="3.1"/>
<circle cx="380.27" cy="566.70" r="3.1"/>
<circle cx="380.27" cy="579.70" r="3.1"/>
<circle cx="380.27" cy="592.10" r="3.1"/>
<circle cx="380.27" cy="619.60" r="3.1"/>
<circle cx="380.27" cy="627.60" r="3.1"/>
<circle cx="380.27" cy="677.00" r="3.1"/>
<circle cx="380.27" cy="558.20" r="3.1"/>
<circle cx="380.27" cy="578.50" r="3.1"/>
<circle cx="380.27" cy="589.30" r="3.1"/>
<circle cx="380.27" cy="615.40" r="3.1"/>
<circle cx="380.27" cy="623.00" r="3.1"/>
<circle cx="380.27" cy="665.00" r="3.1"/>
<circle cx="399.99" cy="566.70" r="3.1"/>
<circle cx="399.99" cy="581.90" r="3.1"/>
<circle cx="399.99" cy="588.70" r="3.1"/>
<circle cx="399.99" cy="601.70" r="3.1"/>
<circle cx="399.99" cy="623.00" r="3.1"/>
<circle cx="399.99" cy="660.40" r="3.1"/>
<circle cx="399.99" cy="699.80" r="3.1"/>
<circle cx="399.99" cy="783.20" r="3.1"/>
<circle cx="399.99" cy="523.80" r="3.1"/>
<circle cx="399.99" cy="572.90" r="3.1"/>
<circle cx="399.99" cy="584.70" r="3.1"/>
<circle cx="399.99" cy="597.70" r="3.1"/>
<circle cx="399.99" cy="606.20" r="3.1"/>
<circle cx="399.99" cy="645.40" r="3.1"/>
<circle cx="399.99" cy="677.70" r="3.1"/>
<circle cx="399.99" cy="752.40" r="3.1"/>
<circle cx="419.71" cy="576.80" r="3.1"/>
<circle cx="419.71" cy="585.30" r="3.1"/>
<circle cx="419.71" cy="610.20" r="3.1"/>
<circle cx="419.71" cy="626.40" r="3.1"/>
<circle cx="419.71" cy="664.60" r="3.1"/>
<circle cx="419.71" cy="572.30" r="3.1"/>
<circle cx="419.71" cy="580.80" r="3.1"/>
<circle cx="419.71" cy="607.30" r="3.1"/>
<circle cx="419.71" cy="612.80" r="3.1"/>
<circle cx="419.71" cy="627.30" r="3.1"/>
<circle cx="419.71" cy="736.40" r="3.1"/>
<circle cx="439.43" cy="580.00" r="3.1"/>
<circle cx="439.43" cy="597.70" r="3.1"/>
<circle cx="439.43" cy="606.20" r="3.1"/>
<circle cx="439.43" cy="626.90" r="3.1"/>
<circle cx="439.43" cy="643.70" r="3.1"/>
<circle cx="439.43" cy="697.40" r="3.1"/>
<circle cx="439.43" cy="744.40" r="3.1"/>
<circle cx="439.43" cy="572.70" r="3.1"/>
<circle cx="439.43" cy="585.30" r="3.1"/>
<circle cx="439.43" cy="601.10" r="3.1"/>
<circle cx="439.43" cy="611.90" r="3.1"/>
<circle cx="439.43" cy="633.60" r="3.1"/>
<circle cx="439.43" cy="687.00" r="3.1"/>
<circle cx="439.43" cy="735.60" r="3.1"/>
<circle cx="459.15" cy="577.40" r="3.1"/>
<circle cx="459.15" cy="594.90" r="3.1"/>
<circle cx="459.15" cy="611.90" r="3.1"/>
<circle cx="459.15" cy="622.20" r="3.1"/>
<circle cx="459.15" cy="663.80" r="3.1"/>
<circle cx="459.15" cy="674.00" r="3.1"/>
<circle cx="459.15" cy="558.40" r="3.1"/>
<circle cx="459.15" cy="588.70" r="3.1"/>
<circle cx="459.15" cy="606.00" r="3.1"/>
<circle cx="459.15" cy="617.90" r="3.1"/>
<circle cx="459.15" cy="626.40" r="3.1"/>
<circle cx="459.15" cy="668.00" r="3.1"/>
<circle cx="459.15" cy="763.60" r="3.1"/>
<circle cx="478.87" cy="582.50" r="3.1"/>
<circle cx="478.87" cy="610.20" r="3.1"/>
<circle cx="478.87" cy="633.60" r="3.1"/>
<circle cx="478.87" cy="671.10" r="3.1"/>
<circle cx="478.87" cy="555.90" r="3.1"/>
<circle cx="478.87" cy="588.40" r="3.1"/>
<circle cx="478.87" cy="626.40" r="3.1"/>
<circle cx="478.87" cy="649.00" r="3.1"/>
<circle cx="478.87" cy="726.10" r="3.1"/>
<circle cx="498.59" cy="610.20" r="3.1"/>
<circle cx="498.59" cy="705.00" r="3.1"/>
<circle cx="498.59" cy="722.30" r="3.1"/>
<circle cx="498.59" cy="743.60" r="3.1"/>
<circle cx="498.59" cy="604.20" r="3.1"/>
<circle cx="498.59" cy="615.40" r="3.1"/>
<circle cx="498.59" cy="711.30" r="3.1"/>
<circle cx="498.59" cy="736.80" r="3.1"/>
<circle cx="518.31" cy="610.20" r="3.1"/>
<circle cx="518.31" cy="621.30" r="3.1"/>
<circle cx="518.31" cy="686.70" r="3.1"/>
<circle cx="518.31" cy="763.60" r="3.1"/>
<circle cx="518.31" cy="591.70" r="3.1"/>
<circle cx="518.31" cy="619.60" r="3.1"/>
<circle cx="518.31" cy="626.90" r="3.1"/>
<circle cx="518.31" cy="702.80" r="3.1"/>
<circle cx="518.31" cy="860.90" r="3.1"/>
<circle cx="538.03" cy="598.20" r="3.1"/>
<circle cx="538.03" cy="604.10" r="3.1"/>
<circle cx="538.03" cy="686.80" r="3.1"/>
<circle cx="538.03" cy="768.70" r="3.1"/>
<circle cx="538.03" cy="579.90" r="3.1"/>
<circle cx="538.03" cy="603.30" r="3.1"/>
<circle cx="538.03" cy="626.10" r="3.1"/>
<circle cx="538.03" cy="702.70" r="3.1"/>
<circle cx="557.75" cy="614.90" r="3.1"/>
<circle cx="557.75" cy="637.70" r="3.1"/>
<circle cx="557.75" cy="726.80" r="3.1"/>
<circle cx="557.75" cy="591.90" r="3.1"/>
<circle cx="557.75" cy="634.30" r="3.1"/>
<circle cx="557.75" cy="671.40" r="3.1"/>
<circle cx="577.47" cy="688.00" r="3.1"/>
<circle cx="597.19" cy="661.70" r="3.1"/>
<circle cx="597.19" cy="753.90" r="3.1"/>
<circle cx="597.19" cy="601.20" r="3.1"/>
<circle cx="597.19" cy="715.80" r="3.1"/>
<circle cx="616.91" cy="749.70" r="3.1"/>
<circle cx="656.35" cy="585.70" r="3.1"/>
<circle cx="656.35" cy="714.90" r="3.1"/>
<circle cx="656.35" cy="740.40" r="3.1"/>
<circle cx="656.35" cy="756.00" r="3.1"/>
<circle cx="656.35" cy="787.30" r="3.1"/>
<circle cx="656.35" cy="523.70" r="3.1"/>
<circle cx="656.35" cy="692.90" r="3.1"/>
<circle cx="656.35" cy="732.70" r="3.1"/>
<circle cx="656.35" cy="744.30" r="3.1"/>
<circle cx="656.35" cy="766.00" r="3.1"/>
<circle cx="656.35" cy="860.90" r="3.1"/>
</g>
<rect x="34.60" y="502.20" width="671.50" height="391.10" fill="none" stroke="#333333" stroke-width="1.07"/>
<rect x="34.60" y="481.50" width="671.50" height="20.70" fill="#E58A00" stroke="#333333" stroke-width="1.07"/>
<text x="370.35" y="495.60" text-anchor="middle" fill="#ffffff" font-size="11.0">Total DLQI vs EQ-5D-5L</text>
<line x1="30.50" y1="862.28" x2="34.10" y2="862.28" stroke="#1a1a1a" stroke-width="1.8" />
<text x="27.80" y="866.78" text-anchor="end" fill="#1a1a1a" stroke="#1a1a1a" stroke-width="0.25" font-size="10.5">-0.6</text>
<line x1="30.50" y1="819.92" x2="34.10" y2="819.92" stroke="#1a1a1a" stroke-width="1.8" />
<text x="27.80" y="824.42" text-anchor="end" fill="#1a1a1a" stroke="#1a1a1a" stroke-width="0.25" font-size="10.5">-0.4</text>
<line x1="30.50" y1="777.56" x2="34.10" y2="777.56" stroke="#1a1a1a" stroke-width="1.8" />
<text x="27.80" y="782.06" text-anchor="end" fill="#1a1a1a" stroke="#1a1a1a" stroke-width="0.25" font-size="10.5">-0.2</text>
<line x1="30.50" y1="735.20" x2="34.10" y2="735.20" stroke="#1a1a1a" stroke-width="1.8" />
<text x="27.80" y="739.70" text-anchor="end" fill="#1a1a1a" stroke="#1a1a1a" stroke-width="0.25" font-size="10.5">0.0</text>
<line x1="30.50" y1="692.84" x2="34.10" y2="692.84" stroke="#1a1a1a" stroke-width="1.8" />
<text x="27.80" y="697.34" text-anchor="end" fill="#1a1a1a" stroke="#1a1a1a" stroke-width="0.25" font-size="10.5">0.2</text>
<line x1="30.50" y1="650.48" x2="34.10" y2="650.48" stroke="#1a1a1a" stroke-width="1.8" />
<text x="27.80" y="654.98" text-anchor="end" fill="#1a1a1a" stroke="#1a1a1a" stroke-width="0.25" font-size="10.5">0.4</text>
<line x1="30.50" y1="608.12" x2="34.10" y2="608.12" stroke="#1a1a1a" stroke-width="1.8" />
<text x="27.80" y="612.62" text-anchor="end" fill="#1a1a1a" stroke="#1a1a1a" stroke-width="0.25" font-size="10.5">0.6</text>
<line x1="30.50" y1="565.76" x2="34.10" y2="565.76" stroke="#1a1a1a" stroke-width="1.8" />
<text x="27.80" y="570.26" text-anchor="end" fill="#1a1a1a" stroke="#1a1a1a" stroke-width="0.25" font-size="10.5">0.8</text>
<line x1="30.50" y1="523.40" x2="34.10" y2="523.40" stroke="#1a1a1a" stroke-width="1.8" />
<text x="27.80" y="527.90" text-anchor="end" fill="#1a1a1a" stroke="#1a1a1a" stroke-width="0.25" font-size="10.5">1.0</text>
<line x1="64.75" y1="893.60" x2="64.75" y2="897.20" stroke="#1a1a1a" stroke-width="1.8" />
<text transform="translate(69.15,900.20) rotate(-90)" text-anchor="end" fill="#1a1a1a" stroke="#1a1a1a" stroke-width="0.25" font-size="10.5">0</text>
<line x1="163.35" y1="893.60" x2="163.35" y2="897.20" stroke="#1a1a1a" stroke-width="1.8" />
<text transform="translate(167.75,900.20) rotate(-90)" text-anchor="end" fill="#1a1a1a" stroke="#1a1a1a" stroke-width="0.25" font-size="10.5">5</text>
<line x1="261.95" y1="893.60" x2="261.95" y2="897.20" stroke="#1a1a1a" stroke-width="1.8" />
<text transform="translate(266.35,900.20) rotate(-90)" text-anchor="end" fill="#1a1a1a" stroke="#1a1a1a" stroke-width="0.25" font-size="10.5">10</text>
<line x1="360.55" y1="893.60" x2="360.55" y2="897.20" stroke="#1a1a1a" stroke-width="1.8" />
<text transform="translate(364.95,900.20) rotate(-90)" text-anchor="end" fill="#1a1a1a" stroke="#1a1a1a" stroke-width="0.25" font-size="10.5">15</text>
<line x1="459.15" y1="893.60" x2="459.15" y2="897.20" stroke="#1a1a1a" stroke-width="1.8" />
<text transform="translate(463.55,900.20) rotate(-90)" text-anchor="end" fill="#1a1a1a" stroke="#1a1a1a" stroke-width="0.25" font-size="10.5">20</text>
<line x1="557.75" y1="893.60" x2="557.75" y2="897.20" stroke="#1a1a1a" stroke-width="1.8" />
<text transform="translate(562.15,900.20) rotate(-90)" text-anchor="end" fill="#1a1a1a" stroke="#1a1a1a" stroke-width="0.25" font-size="10.5">25</text>
<line x1="656.35" y1="893.60" x2="656.35" y2="897.20" stroke="#1a1a1a" stroke-width="1.8" />
<text transform="translate(660.75,900.20) rotate(-90)" text-anchor="end" fill="#1a1a1a" stroke="#1a1a1a" stroke-width="0.25" font-size="10.5">30</text>
<text x="7.3" y="18.0" font-size="16.3" font-weight="bold" fill="#000">A</text>
<text x="3.5" y="488.6" font-size="16" font-weight="bold" fill="#000">B</text>
</svg>
</body></html>
